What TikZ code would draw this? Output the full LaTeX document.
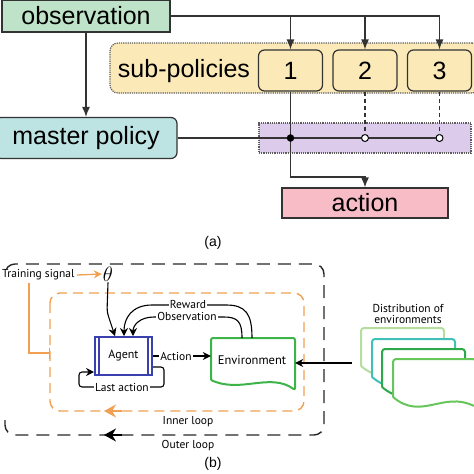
\documentclass[tikz,border=0pt]{standalone}
\usepackage{fontspec}
\setmainfont{Liberation Sans}
\newfontfamily\bfont{PT Sans}
\usetikzlibrary{arrows.meta}
\definecolor{obsfill}{HTML}{BEE3C8}
\definecolor{masterfill}{HTML}{BDE3E3}
\definecolor{subfill}{HTML}{FBE9B8}
\definecolor{purplefill}{HTML}{DCCBEA}
\definecolor{actfill}{HTML}{F8BCC6}
\definecolor{edgec}{HTML}{333333}
\definecolor{orangec}{HTML}{F0A050}
\definecolor{agentblue}{HTML}{3B40B0}
\definecolor{envgreen}{HTML}{3CB44A}
\definecolor{docA}{HTML}{B5DDA0}
\definecolor{docB}{HTML}{40C0B8}
\definecolor{docC}{HTML}{2DA84A}
\definecolor{docD}{HTML}{66C65A}
\newcommand{\mydoc}[3]{%
  \filldraw[fill=white, draw=#3, line width=2pt, rounded corners=3pt]
    (#1,#2+38) -- (#1,#2) -- (#1+83,#2) -- (#1+83,#2+48) [sharp corners]
    .. controls (#1+50,#2+32) and (#1+28,#2+62) .. (#1,#2+38);}
\begin{document}
\begin{tikzpicture}[x=1pt,y=-1pt,
  bigtext/.style={font=\fontsize{25}{30}\selectfont},
  abox/.style={draw=edgec, line width=1.2pt, bigtext, inner sep=0pt},
  arr/.style={draw=edgec, line width=1.2pt, -{Latex[length=10pt,width=8pt]}},
  sarr/.style={draw=black, line width=1.1pt, -{Stealth[length=8pt,width=8pt]}},
  btext/.style={font=\bfont\fontsize{11.5}{13.5}\selectfont, inner sep=1pt},
  lbl/.style={btext, fill=white},
  dotn/.style={circle, draw=black, fill=black, minimum size=7pt, inner sep=0pt},
  odot/.style={circle, draw=black, fill=white, line width=1pt, minimum size=7pt, inner sep=0pt}
]
\useasboundingbox (0,0) rectangle (474,474);

% ---------- (a) ----------
\node[abox, fill=obsfill, minimum width=168pt, minimum height=32pt] (obs) at (86,16) {observation};
\node[draw=edgec!80, densely dotted, line width=1.2pt, fill=subfill, rounded corners=8pt,
      minimum width=370pt, minimum height=50pt, inner sep=0pt] (subbg) at (295,68) {};
\node[bigtext] (sublbl) at (184,71) {sub-policies};
\node[abox, fill=subfill, rounded corners=6pt, minimum width=64pt, minimum height=41pt] (sp1) at (290.5,70.5) {1};
\node[abox, fill=subfill, rounded corners=6pt, minimum width=64pt, minimum height=41pt] (sp2) at (365,70.5) {2};
\node[abox, fill=subfill, rounded corners=6pt, minimum width=64pt, minimum height=41pt] (sp3) at (439.5,70.5) {3};
\node[abox, fill=masterfill, rounded corners=6pt, minimum width=182pt, minimum height=41pt] (master) at (86,138) {master policy};
\node[draw=edgec!80, densely dotted, line width=1.2pt, fill=purplefill, minimum width=212pt,
      minimum height=30pt, inner sep=0pt] (mix) at (365,138) {};
\node[abox, fill=actfill, minimum width=166pt, minimum height=30pt] (action) at (365,203) {action};

\draw[arr] (obs.east) -| (sp1.north);
\draw[arr] (obs.east) -| (sp2.north);
\draw[arr] (obs.east) -| (sp3.north);
\draw[arr] (obs.south) -- (master.north);

\coordinate (bend) at (290.5,177);
\node[odot] (o2) at (sp2 |- master) {};
\node[odot] (o3) at (sp3 |- master) {};
\draw[edgec, line width=1.2pt] (master.east) -- (o2.west);
\draw[edgec, line width=1.2pt] (o2.east) -- (o3.west);
\draw[edgec, line width=1.1pt, dash pattern=on 4pt off 3pt] (sp2.south) -- (o2.north);
\draw[edgec, line width=1.1pt, dash pattern=on 4pt off 3pt] (sp3.south) -- (o3.north);
\draw[arr] (sp1.south) -- (bend) -| (action.north);
\node[dotn] (d1) at (sp1 |- master) {};

\node[font=\fontsize{14}{16}\selectfont] (capa) at (213,243) {(a)};

% ---------- (b) ----------
\draw[black!85, line width=1.4pt, dash pattern=on 13pt off 8pt, rounded corners=10pt]
  (5,420) -- (5,435) -- (324,435) -- (324,264) -- (5,264) -- (5,276);
\draw[orangec, line width=1.4pt, dash pattern=on 10pt off 6pt, rounded corners=10pt]
  (50,293) rectangle (304,411);
\draw[orangec, line width=1.4pt, -{Stealth[length=12pt,width=13pt]}] (122,411) -- (104,411);
\draw[black, line width=1.4pt, -{Stealth[length=12pt,width=13pt]}] (122,435) -- (104,435);
\node[btext] (inner) at (188,422) {Inner loop};
\node[btext] (outer) at (188,445.5) {Outer loop};
\node[font=\fontsize{14}{16}\selectfont] (capb) at (213,464) {(b)};

\node[btext, anchor=west] (ts) at (1,275) {Training signal};
\node[font=\fontsize{21}{21}\selectfont, inner sep=1pt] (theta) at (108,274) {$\theta$};
\draw[orangec, line width=1.3pt, -{Stealth[length=8pt,width=8pt]}] (77,275) -- (theta.west);
\coordinate (tsb) at (29,283);
\coordinate (teeend) at (50,353);
\draw[orangec, line width=1.3pt, -{Bar[width=11pt]}] (tsb) |- (teeend);

% agent
\node[draw=agentblue, line width=2pt, minimum width=57pt, minimum height=38pt, btext,
      font=\bfont\fontsize{12}{14}\selectfont] (agent) at (123.5,356) {Agent};
\draw[agentblue, line width=1.6pt] ([xshift=5pt]agent.north west) -- ([xshift=5pt]agent.south west);
\draw[agentblue, line width=1.6pt] ([xshift=-5pt]agent.north east) -- ([xshift=-5pt]agent.south east);

% environment
\node[minimum width=84pt, minimum height=52pt, inner sep=0pt] (env) at (253,364) {};
\node[btext, font=\bfont\fontsize{12.5}{14}\selectfont] (envlbl) at (252,360) {Environment};
\draw[envgreen, line width=2pt, rounded corners=2pt]
  (211,380) -- (211,338) -- (295,338) -- (295,390) [sharp corners]
  .. controls (270,372) and (240,394) .. (211,380);

% distribution
\node[btext, align=center] (distlbl) at (408,314) {Distribution of\\[-2pt]environments};
\mydoc{361}{328}{docA}
\mydoc{372}{339}{docB}
\mydoc{382}{349}{docC}
\mydoc{393}{359}{docD}
\coordinate (dist) at (352,363);
\draw[sarr] (dist) -- (dist -| env.east);

% agent connections
\draw[sarr] (agent.east) -- (agent.east -| env.west);
\node[lbl] (actlbl) at (176,356) {Action};

\coordinate (thetabend) at (107,312);
\draw[sarr, rounded corners=4pt] (theta.south) -- (thetabend) -- (115,336);

\coordinate (envR) at (252,338);
\coordinate (envO) at (242,338);
\draw[sarr] (envR) .. controls (252,314) and (246,305) .. (226,305) -- (152,305)
  .. controls (132,305) and (124,318) .. (124,336);
\node[lbl] (rewlbl) at (188,304) {Reward};
\draw[sarr] (envO) .. controls (242,322) and (238,317) .. (224,317) -- (154,317)
  .. controls (140,317) and (133,325) .. (133,336);
\node[lbl] (obslbl) at (187,316) {Observation};

\draw[sarr, rounded corners=3pt] ([yshift=-11pt]agent.east) -- ++(11,0) |- (79,387) |- ([yshift=-16pt]agent.west);
\node[lbl] (lastlbl) at (122,387) {Last action};
\end{tikzpicture}
\end{document}
